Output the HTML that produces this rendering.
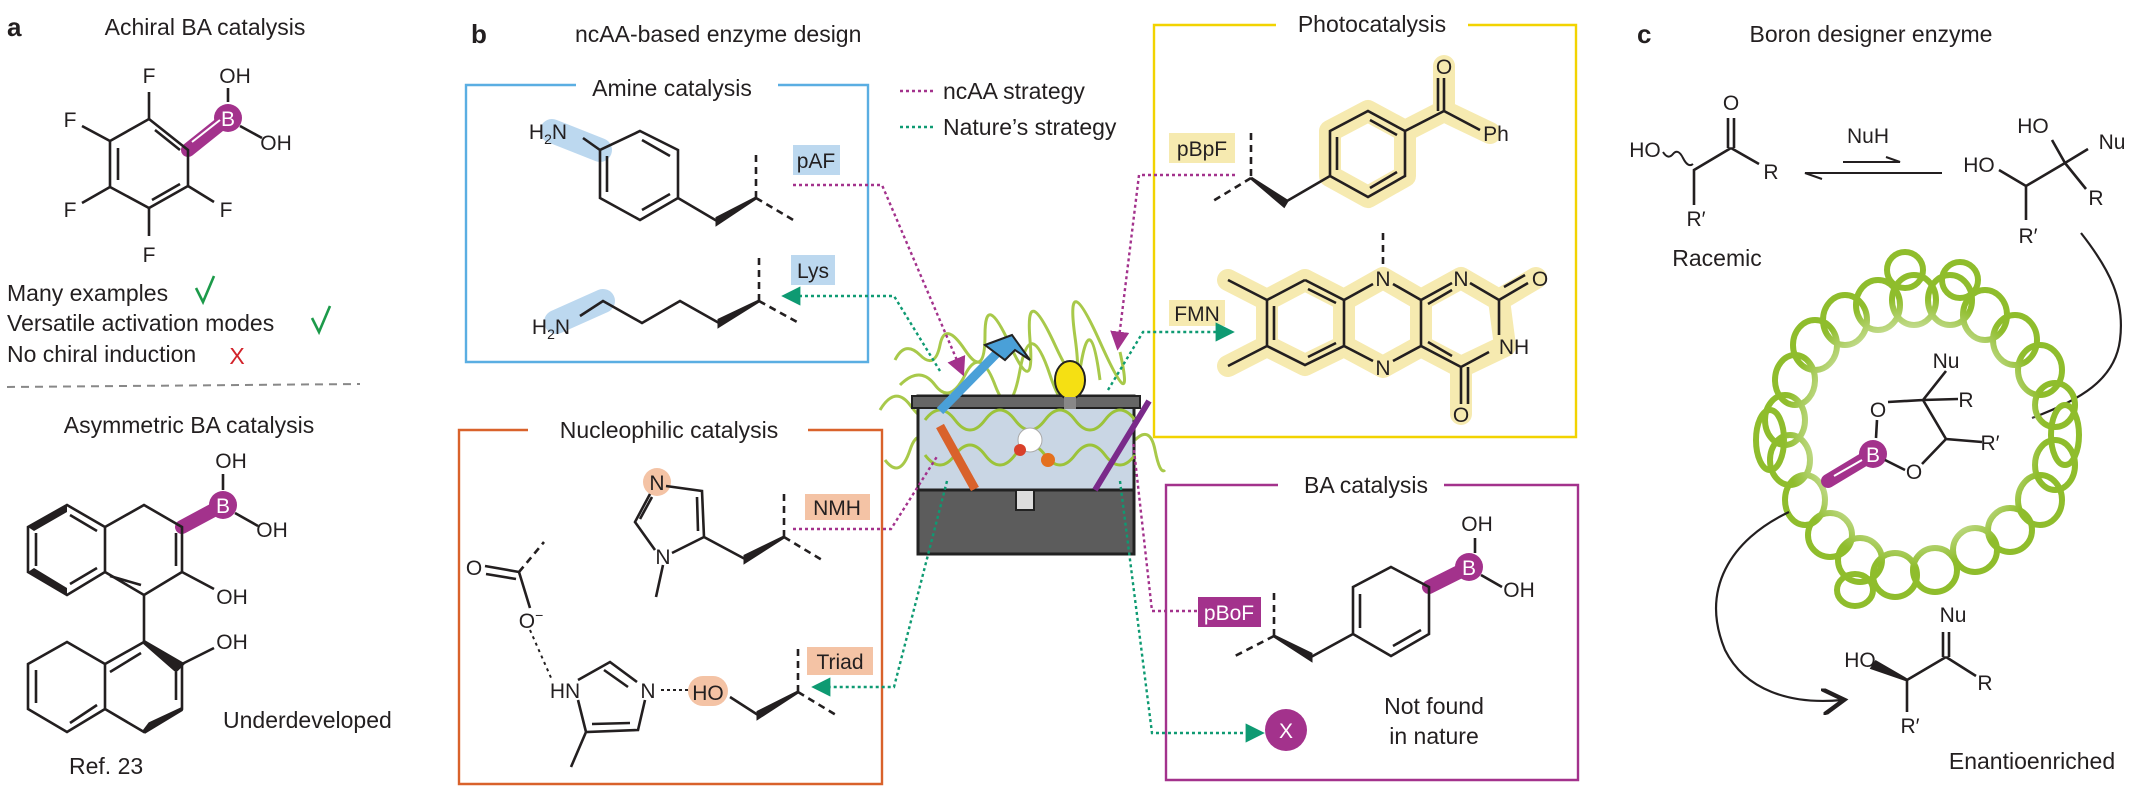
<!DOCTYPE html>
<html><head><meta charset="utf-8"><style>
html,body{margin:0;padding:0;background:#fff;}
svg{display:block;}
text{font-family:"Liberation Sans",sans-serif;fill:#231f20;}
.t{font-size:23px;}
.a{font-size:21px;}
.b{stroke:#231f20;stroke-width:2.6;fill:none;}
.d{stroke:#231f20;stroke-width:2.6;fill:none;stroke-dasharray:7 5;}
.m{stroke:#a3328c;stroke-width:2.4;fill:none;stroke-dasharray:3 3;}
.g{stroke:#0e9a72;stroke-width:2.4;fill:none;stroke-dasharray:3 3;}
</style></head><body>
<svg width="2129" height="786" viewBox="0 0 2129 786" xmlns="http://www.w3.org/2000/svg">
<defs>
<marker id="mm" markerWidth="8" markerHeight="8" refX="6" refY="4" orient="auto"><path d="M0,0 L8,4 L0,8 z" fill="#a3328c"/></marker>
<marker id="mg" markerWidth="8" markerHeight="8" refX="6" refY="4" orient="auto"><path d="M0,0 L8,4 L0,8 z" fill="#0e9a72"/></marker>
<marker id="mk" markerWidth="12" markerHeight="12" refX="9" refY="6" orient="auto"><path d="M0,0 L10,6 L0,12" fill="none" stroke="#231f20" stroke-width="2"/></marker>
<radialGradient id="wg" cx="0.5" cy="0.5" r="0.5"><stop offset="0.5" stop-color="#fff" stop-opacity="1"/><stop offset="1" stop-color="#fff" stop-opacity="0"/></radialGradient>
</defs>

<!-- ===== Panel a ===== -->
<text x="7" y="36" style="font-size:26px;font-weight:bold">a</text>
<text x="205" y="35" class="t" text-anchor="middle">Achiral BA catalysis</text>
<line x1="188" y1="150" x2="228" y2="118" stroke="#a3328c" stroke-width="14" stroke-linecap="round"/>
<circle cx="228" cy="118" r="14" fill="#a3328c"/>
<line x1="192" y1="142" x2="220" y2="120" stroke="#fff" stroke-width="2"/>
<text x="228" y="126" class="a" text-anchor="middle" style="fill:#fff">B</text>
<path class="b" d="M149,119 L188,150 L188,186 L149,208 L110,187 L110,141 Z"/>
<path class="b" d="M155,130 L180,150 M180,184 L152,200 M118,180 L118,148"/>
<path class="b" d="M228,102 L228,88 M240,126 L262,138 M149,119 L149,92 M110,141 L82,126 M110,187 L82,203 M188,186 L214,202 M149,208 L149,236"/>
<text x="235" y="83" class="a" text-anchor="middle">OH</text>
<text x="276" y="150" class="a" text-anchor="middle">OH</text>
<text x="149" y="83" class="a" text-anchor="middle">F</text>
<text x="70" y="127" class="a" text-anchor="middle">F</text>
<text x="70" y="217" class="a" text-anchor="middle">F</text>
<text x="226" y="217" class="a" text-anchor="middle">F</text>
<text x="149" y="262" class="a" text-anchor="middle">F</text>
<text x="7" y="301" class="t">Many examples</text>
<path d="M196,288 L203,302 L214,276" stroke="#1c9a4a" stroke-width="2.6" fill="none"/>
<text x="7" y="331" class="t">Versatile activation modes</text>
<path d="M312,318 L319,332 L330,306" stroke="#1c9a4a" stroke-width="2.6" fill="none"/>
<text x="7" y="362" class="t">No chiral induction</text>
<text x="237" y="364" class="t" text-anchor="middle" style="fill:#d2232a">X</text>
<line x1="7" y1="387" x2="360" y2="384" stroke="#888" stroke-width="2" stroke-dasharray="8 6"/>
<text x="189" y="433" class="t" text-anchor="middle">Asymmetric BA catalysis</text>
<!-- BINOL -->
<line x1="182" y1="527" x2="223" y2="505" stroke="#a3328c" stroke-width="14" stroke-linecap="round"/>
<circle cx="223" cy="505" r="14" fill="#a3328c"/>
<text x="223" y="513" class="a" text-anchor="middle" style="fill:#fff">B</text>
<path class="b" d="M67,505 L105,527 L105,572 L67,595 L28,572 L28,527 Z M105,527 L144,505 L182,527 L182,572 L144,595 L105,572"/>
<path class="b" d="M70,515 L97,531 M97,568 L70,584 M36,566 L36,533 M110,576 L141,585 M176,566 L176,533"/>
<path d="M28,527 L67,505 L67,512 L34,531 Z M28,572 L67,595 L67,588 L34,568Z" fill="#231f20"/>
<path class="b" d="M144,595 L144,642 M223,490 L223,474 M235,513 L258,526 M182,572 L214,589 M182,664 L214,648"/>
<text x="231" y="468" class="a" text-anchor="middle">OH</text>
<text x="272" y="537" class="a" text-anchor="middle">OH</text>
<text x="232" y="604" class="a" text-anchor="middle">OH</text>
<text x="232" y="649" class="a" text-anchor="middle">OH</text>
<path class="b" d="M144,642 L182,664 L182,709 L144,732 L105,709 L105,664 Z M105,664 L67,642 L28,664 L28,709 L67,732 L105,709"/>
<path class="b" d="M110,672 L141,653 M176,672 L176,700 M36,670 L36,703 M70,723 L97,705"/>
<path d="M144,642 L182,664 L176,670 Z M182,709 L144,732 L150,724 Z" fill="#231f20" stroke="#231f20" stroke-width="4"/>
<text x="223" y="728" class="t">Underdeveloped</text>
<text x="69" y="774" class="t">Ref. 23</text>

<!-- ===== Panel b ===== -->
<text x="471" y="43" style="font-size:26px;font-weight:bold">b</text>
<text x="575" y="42" class="t">ncAA-based enzyme design</text>
<path d="M576,85 L466,85 L466,362 L868,362 L868,85 L778,85" stroke="#5aaee2" stroke-width="2.4" fill="none"/>
<text x="672" y="96" class="t" text-anchor="middle">Amine catalysis</text>
<line x1="900" y1="91" x2="934" y2="91" class="m" stroke-dasharray="3 2"/>
<text x="943" y="99" class="t">ncAA strategy</text>
<line x1="900" y1="127" x2="934" y2="127" class="g" stroke-dasharray="3 2"/>
<text x="943" y="135" class="t">Nature’s strategy</text>
<line x1="552" y1="131" x2="600" y2="150" stroke="#bcd8ef" stroke-width="24" stroke-linecap="round"/>
<path class="b" d="M640,131 L678,150 L678,198 L640,220 L600,198 L600,150 Z M642,140 L670,156 M670,194 L642,210 M607,192 L607,156 M583,138 L600,150 M678,198 L717,221"/>
<path d="M717,224 L756,198 L717,218Z" fill="#231f20" stroke="#231f20" stroke-width="3"/>
<path class="d" d="M756,198 L756,153 M756,198 L795,221"/>
<text x="548" y="139" class="a" text-anchor="middle">H<tspan font-size="14" dy="5">2</tspan><tspan dy="-5">N</tspan></text>
<rect x="793" y="145" width="47" height="30" fill="#bcd8ef"/>
<text x="816" y="168" class="a" text-anchor="middle">pAF</text>
<line x1="556" y1="322" x2="603" y2="301" stroke="#bcd8ef" stroke-width="24" stroke-linecap="round"/>
<path class="b" d="M580,316 L603,301 L642,323 L680,301 L719,323"/>
<path d="M719,326 L759,301 L719,320Z" fill="#231f20" stroke="#231f20" stroke-width="3"/>
<path class="d" d="M759,301 L759,255 M759,301 L797,322"/>
<text x="551" y="334" class="a" text-anchor="middle">H<tspan font-size="14" dy="5">2</tspan><tspan dy="-5">N</tspan></text>
<rect x="791" y="255" width="44" height="30" fill="#bcd8ef"/>
<text x="813" y="278" class="a" text-anchor="middle">Lys</text>

<path d="M528,430 L459,430 L459,784 L882,784 L882,430 L808,430" stroke="#d9622b" stroke-width="2.4" fill="none"/>
<text x="669" y="438" class="t" text-anchor="middle">Nucleophilic catalysis</text>
<circle cx="657" cy="482" r="14" fill="#f4c3a5"/>
<path class="b" d="M666,486 L702,491 L704,537 L672,553 M655,550 L635,522 L650,494 M697,497 L698,531 M640,519 L652,497 M663,565 L656,597 M704,537 L745,559"/>
<path d="M745,562 L784,537 L745,556Z" fill="#231f20" stroke="#231f20" stroke-width="3"/>
<path class="d" d="M784,537 L784,492 M784,537 L822,560"/>
<text x="657" y="490" class="a" text-anchor="middle">N</text>
<text x="663" y="564" class="a" text-anchor="middle">N</text>
<rect x="805" y="494" width="65" height="26" fill="#f4c3a5"/>
<text x="837" y="515" class="a" text-anchor="middle">NMH</text>
<path class="b" d="M485,566 L519,572 M486,574 L516,579 M519,572 L530,608"/>
<path class="d" d="M519,572 L544,542"/>
<path d="M530,630 L552,680" stroke="#231f20" stroke-width="2" stroke-dasharray="3 4"/>
<text x="474" y="575" class="a" text-anchor="middle">O</text>
<text x="531" y="628" class="a" text-anchor="middle">O<tspan font-size="14" dy="-8">−</tspan></text>
<path class="b" d="M578,680 L610,662 L637,682 M604,670 L628,687 M645,700 L638,730 L586,732 L578,700 M592,724 L630,723 M586,732 L571,767" />
<text x="565" y="698" class="a" text-anchor="middle">HN</text>
<text x="648" y="698" class="a" text-anchor="middle">N</text>
<path d="M661,690 L688,690" stroke="#231f20" stroke-width="2" stroke-dasharray="3 3"/>
<rect x="688" y="676" width="40" height="30" rx="15" fill="#f4c3a5"/>
<text x="708" y="700" class="a" text-anchor="middle">HO</text>
<path class="b" d="M730,697 L758,715"/>
<path d="M758,718 L798,692 L758,712Z" fill="#231f20" stroke="#231f20" stroke-width="3"/>
<path class="d" d="M798,692 L798,645 M798,692 L836,715"/>
<rect x="807" y="647" width="66" height="28" fill="#f4c3a5"/>
<text x="840" y="669" class="a" text-anchor="middle">Triad</text>

<path d="M1276,25 L1154,25 L1154,437 L1576,437 L1576,25 L1468,25" stroke="#f2d300" stroke-width="2.4" fill="none"/>
<text x="1372" y="32" class="t" text-anchor="middle">Photocatalysis</text>
<g stroke="#f6eab0" stroke-width="22" fill="none" stroke-linejoin="round" stroke-linecap="round">
<path d="M1368,111 L1405,131 L1405,176 L1368,197 L1330,176 L1330,131 Z M1405,131 L1444,111 L1444,66 M1444,111 L1490,133"/>
<path d="M1305,280 L1344,300 L1383,278 L1421,300 L1461,278 L1499,300 L1536,278 M1499,300 L1505,346 L1461,367 L1461,414 M1461,367 L1421,346 L1383,367 L1344,346 L1305,365 L1267,346 L1228,366 M1267,346 L1267,300 L1228,280 M1267,300 L1305,280 M1344,300 L1344,346 M1421,300 L1421,346"/>
</g>
<rect x="1169" y="133" width="66" height="30" fill="#f6eab0"/>
<text x="1202" y="156" class="a" text-anchor="middle">pBpF</text>
<path class="d" d="M1251,133 L1251,178 M1251,178 L1213,201"/>
<path d="M1251,178 L1287,201 L1284,206Z" fill="#231f20" stroke="#231f20" stroke-width="3"/>
<path class="b" d="M1287,201 L1330,176 M1368,111 L1405,131 L1405,176 L1368,197 L1330,176 L1330,131 Z M1370,120 L1397,135 M1397,172 L1370,188 M1337,170 L1337,137 M1405,131 L1444,111 L1444,78 M1438,111 L1438,78 M1444,111 L1480,130"/>
<text x="1444" y="74" class="a" text-anchor="middle">O</text>
<text x="1496" y="141" class="a" text-anchor="middle">Ph</text>
<path class="d" d="M1383,233 L1383,264"/>
<path class="b" d="M1305,280 L1344,300 L1373,284 M1393,284 L1421,300 L1452,283 M1470,283 L1499,300 L1528,283 M1504,287 L1525,275 M1499,300 L1499,335 M1489,352 L1461,367 L1461,404 M1468,367 L1468,404 M1461,367 L1421,346 L1393,361 M1373,361 L1344,346 L1305,365 L1267,346 L1267,300 L1305,280 M1274,340 L1274,306 M1308,289 L1336,303 M1336,343 L1308,357 M1344,300 L1344,346 M1421,300 L1421,346 M1428,304 L1452,290 M1428,342 L1452,356 M1267,300 L1228,280 M1267,346 L1228,366"/>
<text x="1383" y="286" class="a" text-anchor="middle">N</text>
<text x="1461" y="286" class="a" text-anchor="middle">N</text>
<text x="1383" y="375" class="a" text-anchor="middle">N</text>
<text x="1514" y="354" class="a" text-anchor="middle">NH</text>
<text x="1540" y="286" class="a" text-anchor="middle">O</text>
<text x="1461" y="422" class="a" text-anchor="middle">O</text>
<rect x="1169" y="300" width="56" height="26" fill="#f6eab0"/>
<text x="1197" y="321" class="a" text-anchor="middle">FMN</text>

<path d="M1278,485 L1166,485 L1166,780 L1578,780 L1578,485 L1444,485" stroke="#a3328c" stroke-width="2.4" fill="none"/>
<text x="1366" y="493" class="t" text-anchor="middle">BA catalysis</text>
<line x1="1429" y1="587" x2="1469" y2="567" stroke="#a3328c" stroke-width="14" stroke-linecap="round"/>
<circle cx="1469" cy="567" r="14" fill="#a3328c"/>
<text x="1469" y="575" class="a" text-anchor="middle" style="fill:#fff">B</text>
<path class="b" d="M1391,567 L1429,587 L1429,634 L1391,656 L1353,634 L1353,587 Z M1360,594 L1360,628 M1393,646 L1421,630 M1353,634 L1311,657 M1475,553 L1475,538 M1481,575 L1502,587"/>
<path d="M1311,660 L1274,636 L1311,654Z" fill="#231f20" stroke="#231f20" stroke-width="3"/>
<path class="d" d="M1274,636 L1274,589 M1274,636 L1235,656"/>
<text x="1477" y="531" class="a" text-anchor="middle">OH</text>
<text x="1519" y="597" class="a" text-anchor="middle">OH</text>
<rect x="1198" y="597" width="63" height="30" fill="#a3328c"/>
<text x="1229" y="620" class="a" text-anchor="middle" style="fill:#fff">pBoF</text>
<circle cx="1286" cy="730" r="21" fill="#a3328c"/>
<text x="1286" y="738" class="a" text-anchor="middle" style="fill:#fff">X</text>
<text x="1434" y="714" class="t" text-anchor="middle">Not found</text>
<text x="1434" y="744" class="t" text-anchor="middle">in nature</text>

<!-- toolbox -->
<g fill="none" stroke="#a8c94a" stroke-width="3">
<path d="M895,360 q10,-20 25,-5 t20,-10 t25,5 t20,-15 t25,10 t20,-5 t25,5 t20,-8 t25,5 t20,10"/>
<path d="M880,410 q15,-25 30,-5 t20,10 t15,-20"/>
<path d="M885,460 q15,20 25,-10 t25,10"/>
<path d="M1135,440 q15,-15 20,10 t10,20"/>
<path d="M900,385 q20,-20 35,0 t30,-10 t30,10 t25,-15 t30,5 t30,-5 t20,10"/>
</g>
<rect x="918" y="396" width="216" height="94" fill="#c9d6e4" stroke="#222" stroke-width="3"/>
<rect x="912" y="396" width="228" height="12" fill="#666" stroke="#222" stroke-width="2"/>
<g fill="none" stroke="#9cc33a" stroke-width="3">
<path d="M925,420 q15,-20 30,0 t30,0 t30,0 t30,0 t30,0 t30,0 t30,0"/>
<path d="M925,455 q15,20 30,0 t30,0 t30,0 t30,0 t30,0 t30,0 t30,0"/>
</g>
<circle cx="1030" cy="440" r="12" fill="#fff" stroke="#aaa"/>
<circle cx="1020" cy="450" r="6" fill="#d9402a"/>
<circle cx="1048" cy="460" r="7" fill="#e4701e"/>
<rect x="918" y="490" width="216" height="64" fill="#5c5c5c" stroke="#222" stroke-width="3"/>
<rect x="1016" y="490" width="18" height="20" fill="#ddd" stroke="#222" stroke-width="2"/>
<line x1="940" y1="426" x2="975" y2="489" stroke="#d9622b" stroke-width="9"/>
<line x1="940" y1="411" x2="1000" y2="350" stroke="#4aa0d8" stroke-width="9"/>
<path d="M985,345 L1012,335 L1030,360 L1015,350 L1005,360Z" fill="#4aa0d8" stroke="#222" stroke-width="2"/>
<ellipse cx="1070" cy="380" rx="15" ry="19" fill="#f5e013" stroke="#222" stroke-width="2"/>
<rect x="1064" y="397" width="12" height="12" fill="#888"/>
<line x1="1149" y1="401" x2="1095" y2="490" stroke="#7a2a8a" stroke-width="6"/>
<path class="m" d="M793,185 L882,185 L962,372" marker-end="url(#mm)"/>
<path class="g" d="M940,371 L894,296 L786,296" marker-end="url(#mg)"/>
<path class="m" d="M793,529 L891,529 L938,455"/>
<path class="g" d="M947,481 L894,687 L816,687" marker-end="url(#mg)"/>
<path class="m" d="M1235,175 L1139,175 L1118,346" marker-end="url(#mm)"/>
<path class="g" d="M1108,390 L1143,332 L1230,332" marker-end="url(#mg)"/>
<path class="m" d="M1197,611 L1152,611 L1133,441"/>
<path class="g" d="M1120,481 L1152,733 L1260,733" marker-end="url(#mg)"/>

<!-- ===== Panel c ===== -->
<text x="1637" y="43" style="font-size:26px;font-weight:bold">c</text>
<text x="1871" y="42" class="t" text-anchor="middle">Boron designer enzyme</text>
<text x="1731" y="110" class="a" text-anchor="middle">O</text>
<path class="b" d="M1728,118 L1728,148 M1734,118 L1734,148 M1731,148 L1759,164 M1731,148 L1694,170 L1694,205"/>
<path d="M1663,152 q5,8 10,2 t10,4 t10,6" stroke="#231f20" stroke-width="2" fill="none"/>
<text x="1645" y="157" class="a" text-anchor="middle">HO</text>
<text x="1771" y="179" class="a" text-anchor="middle">R</text>
<text x="1696" y="226" class="a" text-anchor="middle">R′</text>
<text x="1717" y="266" class="t" text-anchor="middle">Racemic</text>
<text x="1868" y="143" class="a" text-anchor="middle">NuH</text>
<path d="M1843,162 L1900,162 L1886,157" stroke="#231f20" stroke-width="2" fill="none"/>
<path d="M1942,173 L1805,173 L1822,179" stroke="#231f20" stroke-width="2" fill="none"/>
<text x="2033" y="133" class="a" text-anchor="middle">HO</text>
<text x="2112" y="149" class="a" text-anchor="middle">Nu</text>
<text x="1979" y="172" class="a" text-anchor="middle">HO</text>
<text x="2096" y="205" class="a" text-anchor="middle">R</text>
<text x="2028" y="243" class="a" text-anchor="middle">R′</text>
<path class="b" d="M2052,140 L2065,163 L2088,149 M2065,163 L2086,189 M2065,163 L2026,186 L1999,170 M2026,186 L2026,220"/>
<path d="M2081,233 C2110,270 2125,300 2120,340 C2115,380 2080,400 2032,418" stroke="#231f20" stroke-width="2.2" fill="none"/>
<g fill="none" stroke="#8fbd2c" stroke-width="6">
<ellipse cx="1914" cy="300" rx="22" ry="25"/><ellipse cx="1950" cy="300" rx="22" ry="25"/><ellipse cx="1985" cy="315" rx="22" ry="25"/>
<ellipse cx="2015" cy="340" rx="22" ry="25"/><ellipse cx="2040" cy="370" rx="22" ry="25"/><ellipse cx="2055" cy="405" rx="20" ry="22"/>
<ellipse cx="1878" cy="305" rx="22" ry="25"/><ellipse cx="1845" cy="320" rx="22" ry="25"/><ellipse cx="1815" cy="345" rx="22" ry="25"/>
<ellipse cx="1795" cy="380" rx="20" ry="25"/><ellipse cx="1785" cy="420" rx="20" ry="25"/><ellipse cx="1790" cy="460" rx="20" ry="25"/>
<ellipse cx="1805" cy="500" rx="20" ry="25"/><ellipse cx="1830" cy="535" rx="22" ry="22"/><ellipse cx="1860" cy="560" rx="22" ry="22"/>
<ellipse cx="1895" cy="575" rx="22" ry="22"/><ellipse cx="1935" cy="570" rx="22" ry="22"/><ellipse cx="1975" cy="550" rx="22" ry="22"/>
<ellipse cx="2010" cy="530" rx="22" ry="22"/><ellipse cx="2040" cy="500" rx="22" ry="25"/><ellipse cx="2055" cy="465" rx="20" ry="25"/>
<ellipse cx="1905" cy="270" rx="18" ry="18"/><ellipse cx="1960" cy="280" rx="18" ry="18"/><ellipse cx="1855" cy="590" rx="18" ry="16"/>
<ellipse cx="1770" cy="440" rx="14" ry="30"/><ellipse cx="2065" cy="435" rx="14" ry="30"/>
</g>
<ellipse cx="1914" cy="432" rx="130" ry="135" fill="url(#wg)"/>
<line x1="1828" y1="481" x2="1873" y2="454" stroke="#a3328c" stroke-width="14" stroke-linecap="round"/>
<circle cx="1873" cy="454" r="14" fill="#a3328c"/>
<line x1="1834" y1="476" x2="1862" y2="460" stroke="#fff" stroke-width="2"/>
<text x="1873" y="462" class="a" text-anchor="middle" style="fill:#fff">B</text>
<path class="b" d="M1876,438 L1877,420 M1888,402 L1923,400 L1946,371 M1923,400 L1958,399 M1923,400 L1946,439 L1982,442 M1946,439 L1922,464 M1905,470 L1885,460"/>
<text x="1878" y="417" class="a" text-anchor="middle">O</text>
<text x="1914" y="479" class="a" text-anchor="middle">O</text>
<text x="1946" y="368" class="a" text-anchor="middle">Nu</text>
<text x="1966" y="407" class="a" text-anchor="middle">R</text>
<text x="1990" y="450" class="a" text-anchor="middle">R′</text>
<path d="M1789,512 C1730,540 1700,590 1725,650 C1745,690 1790,705 1842,700" stroke="#231f20" stroke-width="2.2" fill="none" marker-end="url(#mk)"/>
<text x="1953" y="622" class="a" text-anchor="middle">Nu</text>
<path class="b" d="M1943,632 L1943,657 M1949,632 L1949,657 M1946,657 L1976,676 M1946,657 L1907,680 L1907,712"/>
<path d="M1907,680 L1876,662 L1872,668Z" fill="#231f20" stroke="#231f20" stroke-width="3"/>
<text x="1860" y="667" class="a" text-anchor="middle">HO</text>
<text x="1985" y="690" class="a" text-anchor="middle">R</text>
<text x="1910" y="733" class="a" text-anchor="middle">R′</text>
<text x="2032" y="769" class="t" text-anchor="middle">Enantioenriched</text>
</svg>
</body></html>
